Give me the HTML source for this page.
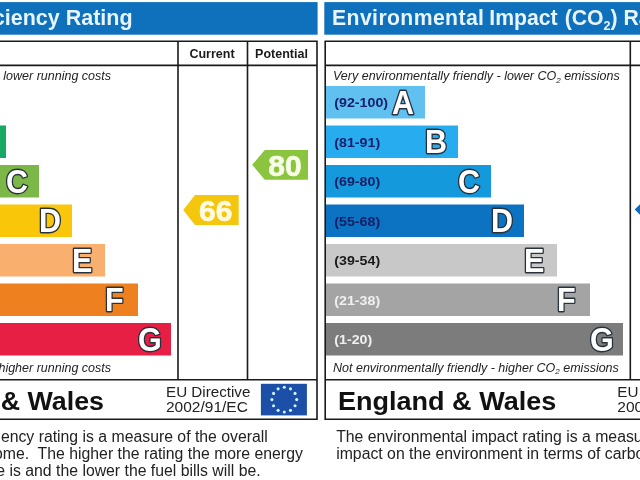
<!DOCTYPE html>
<html>
<head>
<meta charset="utf-8">
<title>Energy Performance Ratings</title>
<style>
html,body{margin:0;padding:0;background:#fff;}
body{width:640px;height:480px;overflow:hidden;position:relative;}
svg{position:absolute;left:0;top:0;display:block;}
text{font-family:"Liberation Sans",Arial,sans-serif;white-space:pre;}
.b{font-weight:bold;}
.i{font-style:italic;font-size:12.5px;fill:#222;}
.ltr{font-weight:bold;font-size:30.5px;fill:#fff;stroke:#27323c;stroke-width:2.6px;stroke-linejoin:round;paint-order:stroke fill;}
.rng{font-weight:bold;font-size:13.5px;}
.num{font-weight:bold;font-size:30px;stroke-width:0.7px;}
.ft{font-size:15.8px;fill:#222;}
.eu{font-size:15.2px;fill:#222;}
.ew{font-weight:bold;font-size:25.55px;fill:#111;}
.hd{font-weight:bold;fill:#e6f5ff;}
</style>
</head>
<body>
<svg width="640" height="480" viewBox="0 0 640 480">
<rect width="640" height="480" fill="#ffffff"/>

<!-- LEFT PANEL -->
<rect x="-10" y="2.1" width="327.6" height="32.6" fill="#0f70bc"/>
<text x="132.6" y="25.45" class="hd" font-size="21.5" text-anchor="end">Energy Efficiency Rating</text>
<g stroke="#1a1a1a" stroke-width="1.6" fill="none">
<path d="M-10 41.2H317V419.3H-10"/>
<path d="M-10 65.4H317"/>
<path d="M-10 379.7H317"/>
<path d="M178 41.2V379.7"/>
<path d="M247.5 41.2V379.7"/>
</g>
<text x="212" y="58.3" class="b" font-size="12.5" text-anchor="middle" fill="#1a1a1a">Current</text>
<text x="281.5" y="58.3" class="b" font-size="12.5" text-anchor="middle" fill="#1a1a1a">Potential</text>
<text x="111" y="80.3" class="i" text-anchor="end">Very energy efficient - lower running costs</text>
<rect x="-10" y="125.50" width="16" height="32.5" fill="#17a864"/>
<rect x="-10" y="165.00" width="49" height="32.5" fill="#7cb848"/>
<rect x="-10" y="204.50" width="82" height="32.5" fill="#f9c60a"/>
<rect x="-10" y="244.00" width="115" height="32.5" fill="#f9b06e"/>
<rect x="-10" y="283.50" width="148" height="32.5" fill="#ef801f"/>
<rect x="-10" y="323.00" width="181" height="32.5" fill="#e71f45"/>
<text transform="translate(6 192.70) scale(1 1.06)" class="ltr">C</text>
<text transform="translate(39 232.20) scale(1 1.06)" class="ltr">D</text>
<text transform="translate(72 271.70) scale(1 1.06)" class="ltr">E</text>
<text transform="translate(105 311.20) scale(1 1.06)" class="ltr">F</text>
<text transform="translate(138 350.70) scale(1 1.06)" class="ltr">G</text>
<text x="111" y="371.8" class="i" text-anchor="end">Not energy efficient - higher running costs</text>
<path d="M183.2 209.9L195 195H238.7V225H195Z" fill="#f5c60e"/>
<text x="215.8" y="221.3" class="num" text-anchor="middle" fill="#fffbe0" stroke="#fffbe0">66</text>
<path d="M252.2 164.8L264.8 150H308V179.7H264.8Z" fill="#8bc53f"/>
<text x="284.9" y="176.3" class="num" text-anchor="middle" fill="#f8fde8" stroke="#f8fde8">80</text>
<text transform="translate(104 409.7) scale(1.05 1)" class="ew" text-anchor="end">England &amp; Wales</text>
<text x="166" y="397" class="eu">EU Directive</text>
<text x="166" y="412.4" class="eu" style="font-size:15.5px">2002/91/EC</text>
<rect x="260.9" y="383.8" width="46" height="31.6" fill="#1b4fa8"/>
<g fill="#d4f2ff">
<circle cx="284.30" cy="387.20" r="1.55"/>
<circle cx="290.50" cy="388.86" r="1.55"/>
<circle cx="295.04" cy="393.40" r="1.55"/>
<circle cx="296.70" cy="399.60" r="1.55"/>
<circle cx="295.04" cy="405.80" r="1.55"/>
<circle cx="290.50" cy="410.34" r="1.55"/>
<circle cx="284.30" cy="412.00" r="1.55"/>
<circle cx="278.10" cy="410.34" r="1.55"/>
<circle cx="273.56" cy="405.80" r="1.55"/>
<circle cx="271.90" cy="399.60" r="1.55"/>
<circle cx="273.56" cy="393.40" r="1.55"/>
<circle cx="278.10" cy="388.86" r="1.55"/>
</g>
<text x="267.8" y="441.9" class="ft" style="font-size:15.8px" text-anchor="end">The energy efficiency rating is a measure of the overall</text>
<text x="302.8" y="458.7" class="ft" style="font-size:15.8px" text-anchor="end">efficiency of a home.  The higher the rating the more energy</text>
<text x="260.6" y="475.8" class="ft" style="font-size:15.8px" text-anchor="end">efficient the home is and the lower the fuel bills will be.</text>
<!-- RIGHT PANEL -->
<rect x="324.3" y="2.1" width="330" height="32.6" fill="#0f70bc"/>
<text x="332.1" y="25.45" class="hd" font-size="21.2"><tspan letter-spacing="0.39">Environmental</tspan><tspan dx="-0.95"> Impact</tspan><tspan dx="1.2"> (CO</tspan><tspan font-size="12.5" dy="4.5">2</tspan><tspan dy="-4.5">) Rating</tspan></text>
<g stroke="#1a1a1a" stroke-width="1.6" fill="none">
<path d="M660 41.2H325.2V419.3H660"/>
<path d="M325.2 65.4H660"/>
<path d="M325.2 379.7H660"/>
<path d="M630.3 41.2V379.7"/>
</g>
<text x="333" y="80.3" class="i">Very environmentally friendly - lower CO<tspan font-size="8" dy="2.5">2</tspan><tspan dy="-2.5"> emissions</tspan></text>
<rect x="326" y="86.00" width="99" height="32.5" fill="#60c0f0"/>
<rect x="326" y="125.50" width="132" height="32.5" fill="#28acf0"/>
<rect x="326" y="165.00" width="165" height="32.5" fill="#1499dc"/>
<rect x="326" y="204.50" width="198" height="32.5" fill="#0c72c2"/>
<rect x="326" y="244.00" width="231" height="32.5" fill="#c8c8c8"/>
<rect x="326" y="283.50" width="264" height="32.5" fill="#a4a4a4"/>
<rect x="326" y="323.00" width="297" height="32.5" fill="#7c7c7c"/>
<text transform="translate(334.3 107.15) scale(1.055 1)" class="rng" fill="#15206a">(92-100)</text>
<text transform="translate(334.3 146.65) scale(1.055 1)" class="rng" fill="#15206a">(81-91)</text>
<text transform="translate(334.3 186.15) scale(1.055 1)" class="rng" fill="#141e64">(69-80)</text>
<text transform="translate(334.3 225.65) scale(1.055 1)" class="rng" fill="#141e64">(55-68)</text>
<text transform="translate(334.3 265.15) scale(1.055 1)" class="rng" fill="#1a1a1a">(39-54)</text>
<text transform="translate(334.3 304.65) scale(1.055 1)" class="rng" fill="#f0f0f0">(21-38)</text>
<text transform="translate(334.3 344.15) scale(1.055 1)" class="rng" fill="#f0f0f0">(1-20)</text>
<text transform="translate(392 113.70) scale(1 1.06)" class="ltr">A</text>
<text transform="translate(425 153.20) scale(1 1.06)" class="ltr">B</text>
<text transform="translate(458 192.70) scale(1 1.06)" class="ltr">C</text>
<text transform="translate(491 232.20) scale(1 1.06)" class="ltr">D</text>
<text transform="translate(524 271.70) scale(1 1.06)" class="ltr">E</text>
<text transform="translate(557 311.20) scale(1 1.06)" class="ltr">F</text>
<text transform="translate(590 350.70) scale(1 1.06)" class="ltr">G</text>
<text x="333" y="371.8" class="i">Not environmentally friendly - higher CO<tspan font-size="8" dy="2.5">2</tspan><tspan dy="-2.5"> emissions</tspan></text>
<path d="M634.7 209.5L646 198.5H660V220.5H646Z" fill="#0c6dbd"/>
<text transform="translate(338 409.7) scale(1.058 1)" class="ew">England &amp; Wales</text>
<text x="617.3" y="397" class="eu">EU Directive</text>
<text x="617.3" y="412.4" class="eu" style="font-size:15.5px">2002/91/EC</text>
<text x="336.2" y="441.9" class="ft">The environmental impact rating is a measure of a home's</text>
<text x="336.2" y="458.7" class="ft">impact on the environment in terms of carbon dioxide (CO2)</text>
</svg>
</body>
</html>
